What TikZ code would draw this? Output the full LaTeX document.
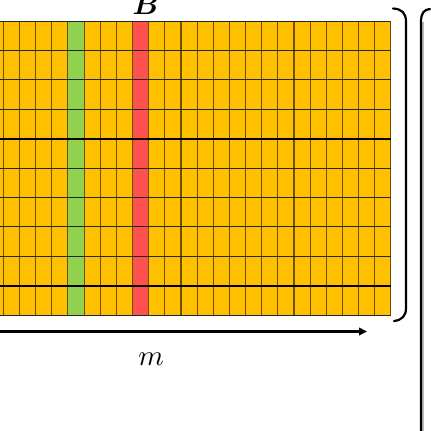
\documentclass[tikz,border=0pt]{standalone}
\usepackage{amsmath,bm}
\usetikzlibrary{arrows.meta}
\definecolor{gold}{RGB}{255,192,0}
\definecolor{lgreen}{RGB}{146,208,80}
\definecolor{lred}{RGB}{255,80,80}
\definecolor{vline}{RGB}{110,80,0}
\tikzset{
  vgrid/.style={draw=vline, line width=1.1pt},
  hgrid/.style={draw=black!85, line width=1pt},
  hthick/.style={draw=black, line width=1.8pt},
  bracestyle/.style={draw=black, line width=2.2pt, line cap=round},
  mathlabel/.style={inner sep=0pt, scale=2.9},
}
\begin{document}
\begin{tikzpicture}[x=1pt,y=-1pt]
\useasboundingbox (0,0) rectangle (431,431);
% grid body
\fill[gold] (-20,21) rectangle (391,315);
\fill[lgreen] (68.3,21) rectangle (84.45,315);
\fill[lred] (133.1,21) rectangle (149.25,315);
\foreach \k in {0,...,24} {
  \draw[vgrid] ({3.3+16.15*\k},21) -- ({3.3+16.15*\k},315);
}
\foreach \j in {0,1,2,3,5,6,7,8,10} {
  \draw[hgrid] (-20,{21+29.4*\j}) -- (391,{21+29.4*\j});
}
\foreach \j in {4,9} {
  \draw[hthick] (-20,{21+29.4*\j}) -- (391,{21+29.4*\j});
}
% labels
\node[mathlabel, anchor=base] (Blabel) at (146,14) {$\bm{B}$};
\node[mathlabel, anchor=base] (mlabel) at (151,365) {$m$};
% arrow
\coordinate (arrowstart) at (-5,331.5);
\coordinate (arrowend) at (367,331.5);
\draw[line width=2.2pt, -{Triangle[length=8pt,width=7.5pt]}] (arrowstart) -- (arrowend);
% right brace
\draw[bracestyle] (393,8.5) .. controls (402,9) and (406,13) .. (406,22)
  -- (406,308) .. controls (406,316) and (402,320) .. (394,321);
% outer bracket
\draw[gray!55, line width=3.5pt] (422.3,22) -- (422.3,440);
\draw[bracestyle] (430,9) .. controls (424,9.5) and (421,13) .. (421,22) -- (421,440);
\end{tikzpicture}
\end{document}
